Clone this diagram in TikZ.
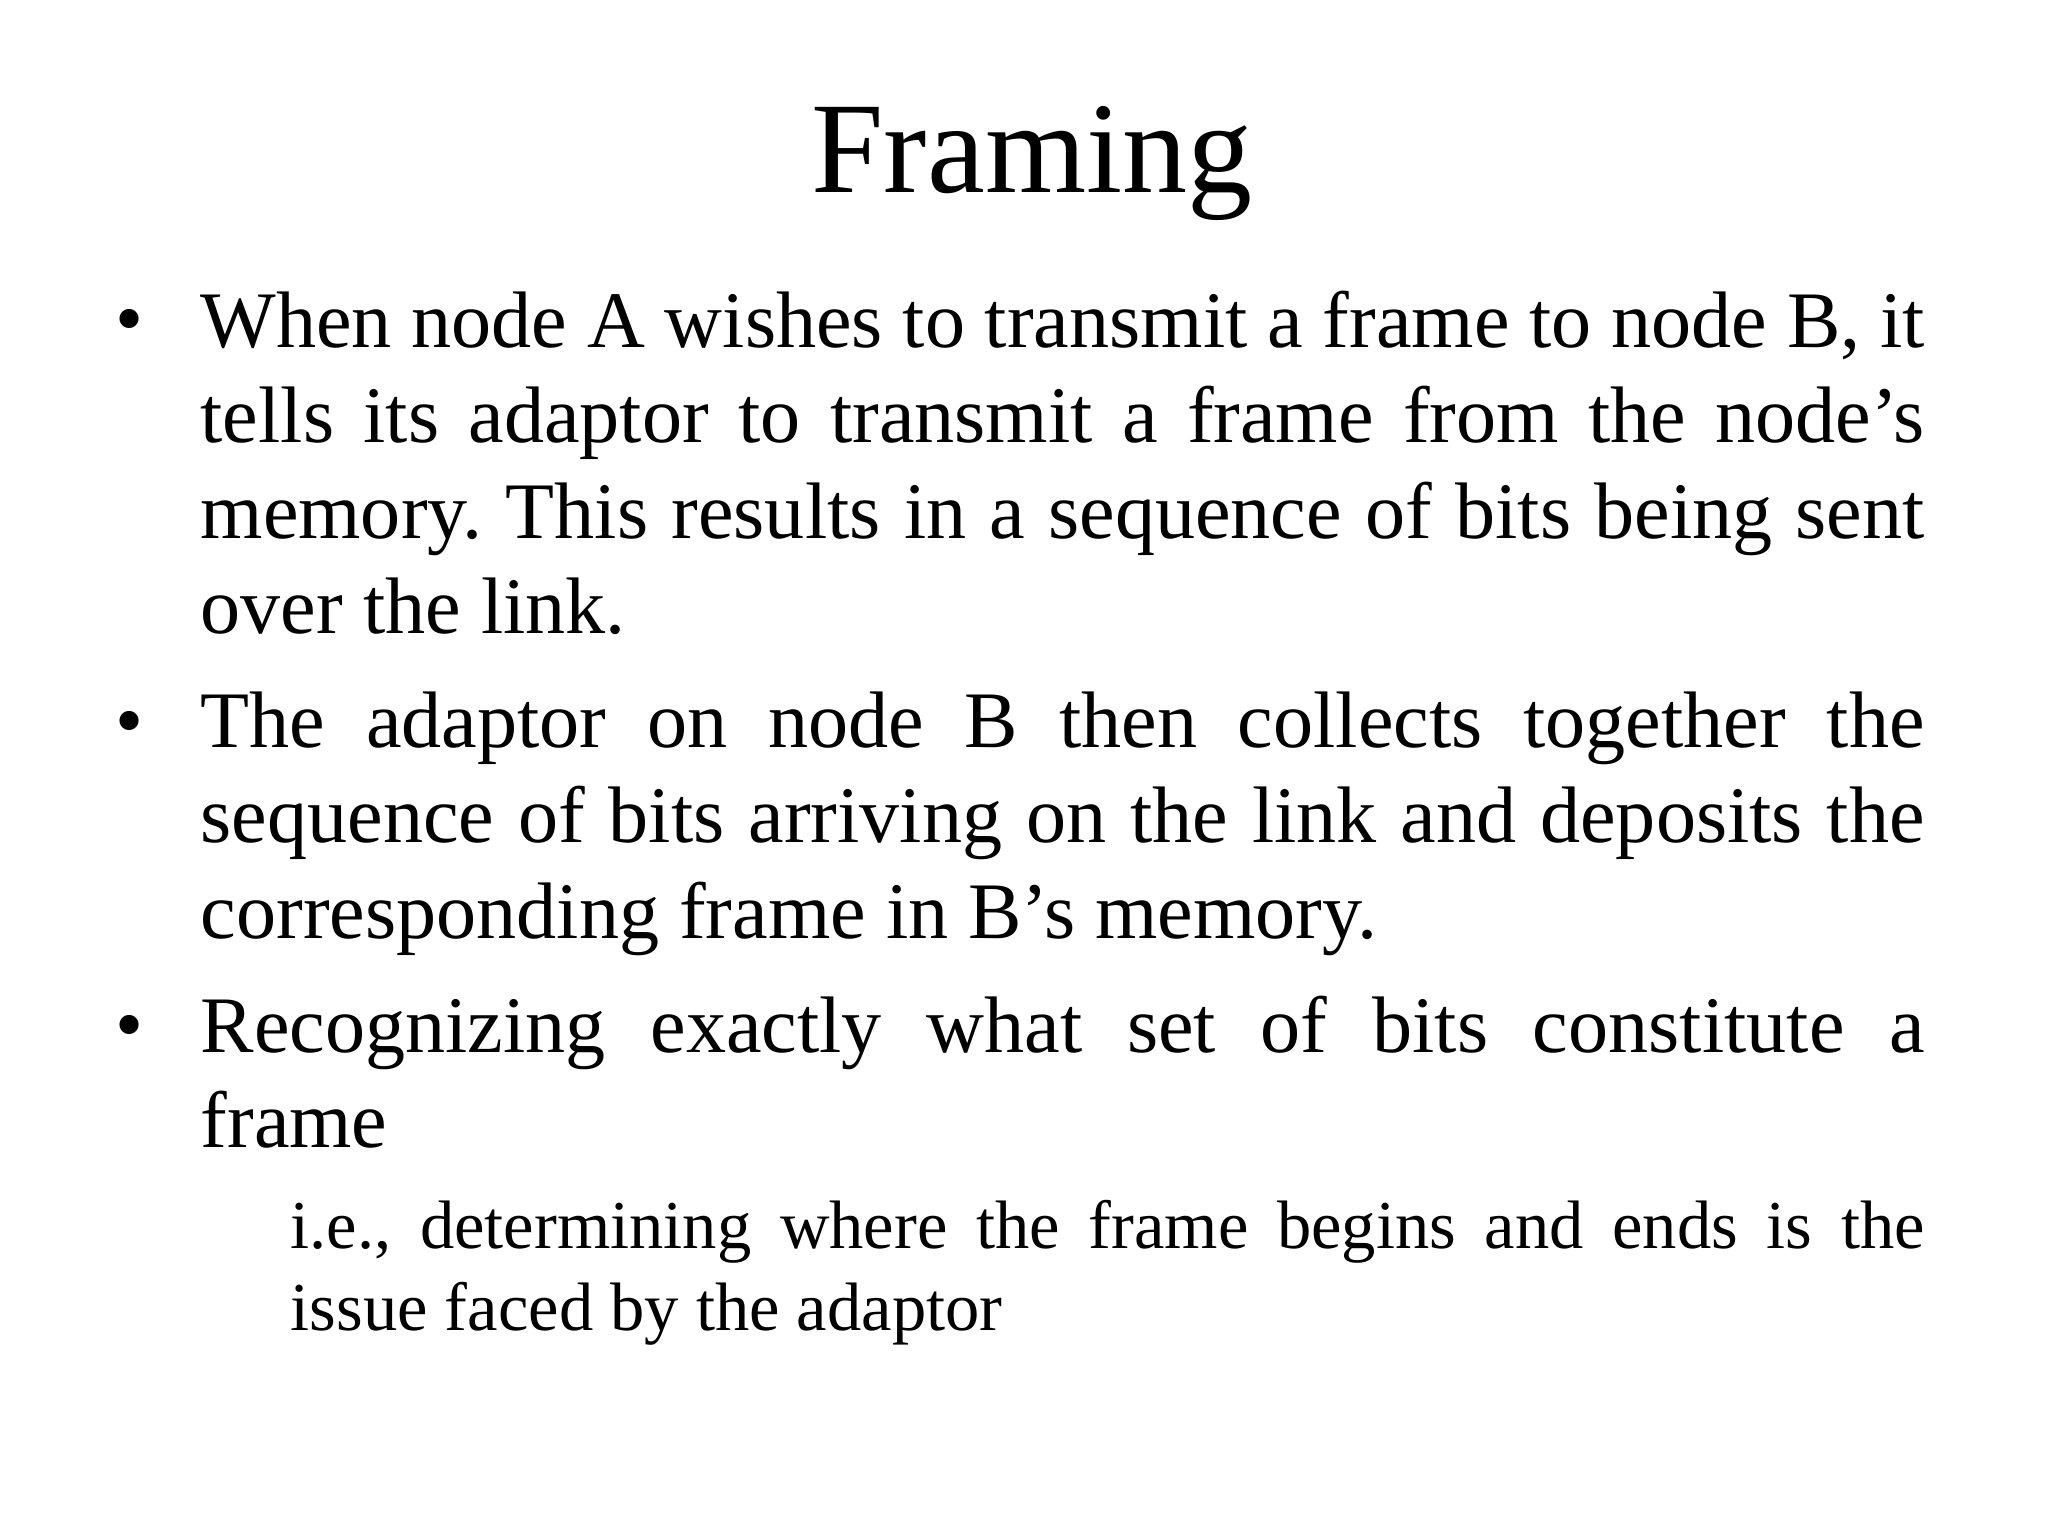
\documentclass[tikz,border=0pt]{standalone}
\usepackage{fontspec}
\setmainfont{Liberation Serif}
\hyphenpenalty=10000
\exhyphenpenalty=10000
\emergencystretch=3em
\frenchspacing
\begin{document}
\begin{tikzpicture}
\tikzset{
 para/.style={anchor=north west,inner sep=0pt,text width=17.24cm,align=justify,
   font=\fontsize{22.8}{27.2}\selectfont},
 sub/.style={anchor=north west,inner sep=0pt,text width=16.34cm,align=justify,
   font=\fontsize{19.5}{23.3}\selectfont},
 bul/.style={anchor=base,inner sep=0pt,font=\fontsize{22.8}{27}\selectfont}
}
\useasboundingbox (0,0) rectangle (20.48,-15.36);
\node[anchor=base,inner sep=0pt,font=\fontsize{37}{44}\selectfont] (title) at (10.32,-1.93) {Framing};
\node[bul] (b1) at (1.30,-3.46) {•};
\node[para] (p1) at (2.00,-2.90) {When node A wishes to transmit a frame to node B, it\linebreak tells its adaptor to transmit a frame from the node’s\linebreak memory. This results in a sequence of bits being sent\linebreak over the link.};
\node[bul] (b2) at (1.30,-7.47) {•};
\node[para] (p2) at (2.00,-6.91) {The adaptor on node B then collects together the\linebreak sequence of bits arriving on the link and deposits the\linebreak corresponding frame in B’s memory.};
\node[bul] (b3) at (1.30,-10.51) {•};
\node[para] (p3) at (2.00,-9.95) {Recognizing exactly what set of bits constitute a\linebreak frame};
\node[sub] (s1) at (2.90,-12.00) {i.e., determining where the frame begins and ends is the\linebreak issue faced by the adaptor};
\end{tikzpicture}
\end{document}
